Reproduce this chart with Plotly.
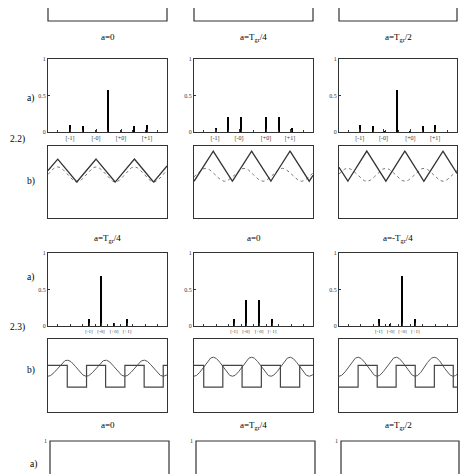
import numpy as np
import plotly.graph_objects as go

W = 474          # window size
OFF = 8          # page body margin
FW = W - OFF     # figure size
# columns: left/right edge of each box in px
col_px = [(48, 167), (194, 313), (339, 457)]

# ---- 2.2 a) spectra (x in px from box left, height 0..1)
s22_x = [[22, 35, 60, 86, 99],
         [22, 34, 47, 72, 85, 98],
         [21, 34, 47, 59, 72, 85, 97]]
s22_y = [[0.10, 0.08, 0.57, 0.08, 0.10],
         [0.06, 0.20, 0.21, 0.21, 0.20, 0.06],
         [0.10, 0.08, 0.01, 0.57, 0.01, 0.08, 0.10]]
s22_ticks = [[22, 48, 73, 99], [21, 45, 72, 96], [21, 45, 72, 97]]

# ---- 2.3 a) spectra
s23_x = [[41, 53, 66, 79], [40, 52, 65, 78], [40, 52, 64, 77]]
s23_y = [[0.10, 0.68, 0.04, 0.10], [0.10, 0.35, 0.35, 0.10], [0.10, 0.03, 0.68, 0.10]]
s23_ticks = [[41, 53, 66, 79], [40, 52, 65, 78], [40, 52, 64, 77]]
spec_labels = ["[-1]", "[-0]", "[+0]", "[+1]"]

# ---- 2.2 b) triangle + sine (t in periods)
tri_peak = [0.25, 0.5, 0.73]
tri_lo, tri_hi = [0.50, 0.51, 0.51], [0.82, 0.93, 0.93]
sin22_peak = [0.25, 0.3, 0.23]
sin22_lo, sin22_hi = [0.50, 0.51, 0.51], [0.71, 0.69, 0.69]

# ---- 2.3 b) square + sine
sq_high_start = [0.0, -0.25, 0.5]   # start of high half-period
sq_lo, sq_hi = 0.34, 0.64
sin23_peak = [0.5, 0.5, 0.5]
sin23_lo, sin23_hi = [0.49, 0.49, 0.49], [0.71, 0.75, 0.75]

labels_top = ["a=0", "a=T<sub>gr</sub>/4", "a=T<sub>gr</sub>/2"]
labels_mid = ["a=T<sub>gr</sub>/4", "a=0", "a=-T<sub>gr</sub>/4"]
labels_low = ["a=0", "a=T<sub>gr</sub>/4", "a=T<sub>gr</sub>/2"]

TMAX = 3.1
FONT = "Liberation Serif"


def py(p):
    return 1 - (p - OFF) / FW


def px(p):
    return (p - OFF) / FW


fig = go.Figure()
layout = {}
n = [0]


def new_axes(c, top, bot, xr, yr):
    n[0] += 1
    k = n[0]
    xa, ya = ("xaxis%d" % k if k > 1 else "xaxis"), ("yaxis%d" % k if k > 1 else "yaxis")
    xref, yref = ("x%d" % k if k > 1 else "x"), ("y%d" % k if k > 1 else "y")
    layout[xa] = dict(domain=[px(col_px[c][0]), px(col_px[c][1])], range=xr, anchor=yref,
                      showline=True, mirror=True, linecolor="#333", linewidth=1.2, automargin=False,
                      showgrid=False, zeroline=False, showticklabels=False, ticks="")
    layout[ya] = dict(domain=[py(bot), py(top)], range=yr, anchor=xref,
                      showline=True, mirror=True, linecolor="#333", linewidth=1.2, automargin=False,
                      showgrid=False, zeroline=False, showticklabels=False, ticks="")
    return xa, ya, xref, yref


for c in range(3):
    for (top, bot, sx, sy, tk, fs) in [(59, 132, s22_x, s22_y, s22_ticks, 6),
                                       (253, 326, s23_x, s23_y, s23_ticks, 5)]:
        xa, ya, xr, yr = new_axes(c, top, bot, [0, 119], [0, 1])
        layout[xa].update(tickvals=tk[c], ticktext=spec_labels, showticklabels=True, tickangle=0,
                          ticks="inside", ticklen=3, tickcolor="#333",
                          tickfont=dict(size=fs, family=FONT, color="#333"),
                          minor=dict(dtick=12.5, tick0=9.5, ticks="inside", ticklen=2, tickcolor="#333"))
        layout[ya].update(tickvals=[0, 0.5, 1], ticktext=["0", "0.5", "1"], showticklabels=True,
                          ticks="inside", ticklen=2, tickcolor="#333",
                          tickfont=dict(size=6, family=FONT, color="#333"))
        fig.add_trace(go.Bar(x=sx[c], y=sy[c], width=1.3, marker_color="black",
                             marker_line_width=0, xaxis=xr, yaxis=yr, showlegend=False))

    t = np.linspace(0, TMAX, 600)
    # 2.2 b)
    xa, ya, xr, yr = new_axes(c, 146, 218, [0, TMAX], [0, 1])
    ph = (t - tri_peak[c]) % 1.0
    tri = tri_lo[c] + (tri_hi[c] - tri_lo[c]) * (1 - 2 * np.minimum(ph, 1 - ph))
    sn = sin22_lo[c] + (sin22_hi[c] - sin22_lo[c]) * (1 + np.cos(2 * np.pi * (t - sin22_peak[c]))) / 2
    fig.add_trace(go.Scatter(x=t, y=sn, mode="lines", line=dict(color="#777", width=1, dash="dot"),
                             xaxis=xr, yaxis=yr, showlegend=False))
    fig.add_trace(go.Scatter(x=t, y=tri, mode="lines", line=dict(color="#333", width=1.3),
                             xaxis=xr, yaxis=yr, showlegend=False))
    # 2.3 b)
    xa, ya, xr, yr = new_axes(c, 339, 412, [0, TMAX], [0, 1])
    ph = (t - sq_high_start[c]) % 1.0
    sq = np.where(ph < 0.5, sq_hi, sq_lo)
    sn = sin23_lo[c] + (sin23_hi[c] - sin23_lo[c]) * (1 + np.cos(2 * np.pi * (t - sin23_peak[c]))) / 2
    fig.add_trace(go.Scatter(x=t, y=sn, mode="lines", line=dict(color="#555", width=1),
                             xaxis=xr, yaxis=yr, showlegend=False))
    fig.add_trace(go.Scatter(x=t, y=sq, mode="lines", line=dict(color="#444", width=1.2, shape="hv"),
                             xaxis=xr, yaxis=yr, showlegend=False))

shapes = []
annotations = []
for c in range(3):
    x0, x1 = col_px[c]
    shapes.append(dict(type="rect", xref="paper", yref="paper", x0=px(x0), x1=px(x1),
                       y0=py(21), y1=py(-5), line=dict(color="#333", width=1.2)))
    shapes.append(dict(type="rect", xref="paper", yref="paper", x0=px(x0 + 2), x1=px(x1 + 2),
                       y0=py(490), y1=py(441), line=dict(color="#333", width=1.2)))
    annotations.append(dict(x=px(x0 + 1), y=py(441), text="1", showarrow=False,
                            xanchor="right", yanchor="middle", xref="paper", yref="paper",
                            font=dict(size=6, family=FONT, color="#333")))
    mid = px((x0 + x1) / 2)
    for ypx, lab in [(37, labels_top), (238, labels_mid), (425, labels_low)]:
        annotations.append(dict(x=mid, y=py(ypx), text=lab[c], showarrow=False,
                                xanchor="center", yanchor="middle", xref="paper", yref="paper",
                                font=dict(size=9, family=FONT, color="black")))

for txt, xp, yp in [("a)", 30, 98), ("2.2)", 8, 139), ("b)", 31, 181),
                    ("a)", 30, 277), ("2.3)", 8, 327), ("b)", 31, 370), ("a)", 33, 464)]:
    annotations.append(dict(x=px(xp), y=py(yp), text=txt, showarrow=False,
                            xanchor="left" if xp == 8 else "center", yanchor="middle",
                            xref="paper", yref="paper",
                            font=dict(size=9.5, family=FONT, color="black")))

fig.update_layout(width=FW, height=FW, margin=dict(l=0, r=0, t=0, b=0),
                  paper_bgcolor="white", plot_bgcolor="white", bargap=0,
                  shapes=shapes, annotations=annotations, **layout)
fig.write_html("out.html")
